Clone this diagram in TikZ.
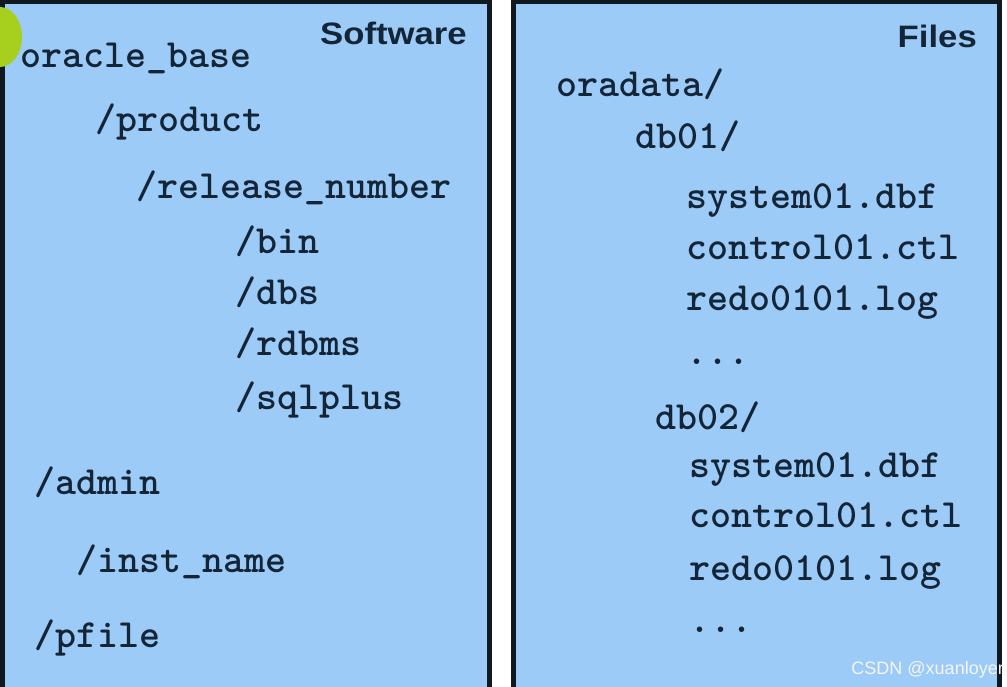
\documentclass[tikz,border=0pt]{standalone}
\usepackage{fontspec}
\newfontfamily\arialx{Liberation Sans}[FakeStretch=1.12]
\newfontfamily\arialw{Liberation Sans}
\definecolor{panelfill}{HTML}{9CCBF8}
\definecolor{panelline}{HTML}{101820}
\definecolor{txt}{HTML}{132536}
\definecolor{hl}{HTML}{A6CF1E}
\tikzset{
  panel/.style={draw=panelline, line width=5pt, fill=panelfill},
  mono/.style={anchor=base west, inner sep=0pt, text=txt, yshift=-2pt, font=\ttfamily\bfseries\fontsize{40}{44}\selectfont},
  head/.style={anchor=base east, inner sep=0pt, text=txt, font=\arialx\bfseries\fontsize{31}{36}\selectfont},
  wmark/.style={anchor=base east, inner sep=0pt, text=white!92!gray, font=\arialw\fontsize{18}{20}\selectfont}
}
\begin{document}
\begin{tikzpicture}[x=1pt,y=-1pt]
\useasboundingbox (0,0) rectangle (1007,687);
\clip (0,0) rectangle (1007,687);
\fill[white] (0,0) rectangle (1007,687);
% panels
\draw[panel] (2.5,1.5) rectangle (489,720);
\draw[panel] (513,1.5) rectangle (999,720);
% highlight
\fill[hl] (0,37) ellipse (22 and 30);
% left panel
\node[head] (sw) at (467,45) {Software};
\node[mono] (ob) at (20,66) {oracle\_base};
\node[mono] (pr) at (95,130) {/product};
\node[mono] (rn) at (136,197) {/release\_number};
\node[mono] (bin) at (235,252) {/bin};
\node[mono] (dbs) at (235,302) {/dbs};
\node[mono] (rd) at (235,353) {/rdbms};
\node[mono] (sq) at (235,407) {/sqlplus};
\node[mono] (ad) at (34,492) {/admin};
\node[mono] (in) at (76,570) {/inst\_name};
\node[mono] (pf) at (34,645) {/pfile};
% right panel
\node[head] (fi) at (977,48) {Files};
\node[mono] (od) at (556,95) {oradata/};
\node[mono] (d1) at (635,147) {db01/};
\node[mono] (s1) at (686,207) {system01.dbf};
\node[mono] (c1) at (686,257) {control01.ctl};
\node[mono] (r1) at (686,308) {redo0101.log};
\node[mono] (e1) at (686,362) {...};
\node[mono] (d2) at (655,427) {db02/};
\node[mono] (s2) at (689,475) {system01.dbf};
\node[mono] (c2) at (689,525) {control01.ctl};
\node[mono] (r2) at (689,578) {redo0101.log};
\node[mono] (e2) at (689,630) {...};
% watermark
\node[wmark] (wm) at (1004,674) {CSDN @xuanloyer};
\end{tikzpicture}
\end{document}
